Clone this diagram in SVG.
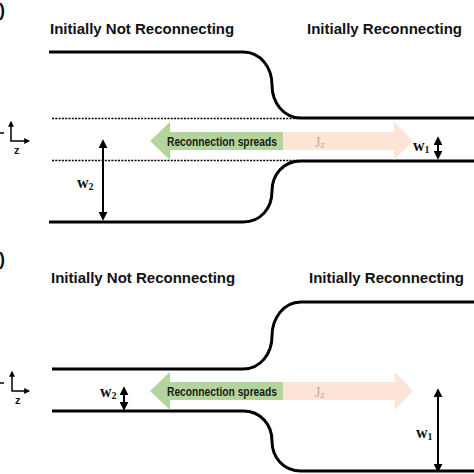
<svg xmlns="http://www.w3.org/2000/svg" width="474" height="474" viewBox="0 0 474 474">
  <defs>
    <style>
      .title { font-family: "Liberation Sans", Arial, sans-serif; font-weight: bold; font-size: 15px; fill: #111; }
      .lbl { font-family: "Liberation Sans", Arial, sans-serif; font-weight: bold; font-size: 12px; fill: #1a1a1a; }
      .w { font-family: "Liberation Serif", "DejaVu Serif", serif; font-weight: bold; font-size: 16px; fill: #111; }
      .jz { font-family: "Liberation Serif", "DejaVu Serif", serif; font-size: 14px; fill: #c9a595; }
      .wall { fill: none; stroke: #000; stroke-width: 3; }
      .dot { fill: none; stroke: #000; stroke-width: 1.6; stroke-dasharray: 2 1.3; }
      .dim { fill: none; stroke: #000; stroke-width: 2; marker-start: url(#ah); marker-end: url(#ah); }
      .ax { fill: none; stroke: #000; stroke-width: 1.5; marker-end: url(#axh); }
      .axl { font-family: "Liberation Sans", Arial, sans-serif; font-weight: bold; font-size: 11px; fill: #111; }
      .green { fill: #b3d49c; }
      .peach { fill: #fce4d6; }
    </style>
    <marker id="ah" viewBox="0 0 10 10" refX="8" refY="5" markerWidth="4.5" markerHeight="4.5" orient="auto-start-reverse" markerUnits="strokeWidth">
      <path d="M0,0 L10,5 L0,10 Z" fill="#000"/>
    </marker>
    <marker id="axh" viewBox="0 0 10 10" refX="8" refY="5" markerWidth="4" markerHeight="4" orient="auto" markerUnits="strokeWidth">
      <path d="M0,0 L10,5 L0,10 Z" fill="#000"/>
    </marker>
  </defs>
  <rect width="474" height="474" fill="#fff"/>

  <!-- Panel a -->
  <g id="panel-a">
    <text x="-1" y="16" class="title" style="font-size:18px">)</text>
    <text x="50" y="34" class="title">Initially Not Reconnecting</text>
    <text x="307" y="34" class="title">Initially Reconnecting</text>
    <g id="a-axes">
      <path d="M0,133 H4" stroke="#000" stroke-width="1.5"/>
      <path class="ax" d="M11,141 V122"/>
      <path class="ax" d="M10.3,141 H29"/>
      <text x="14" y="154" class="axl">z</text>
    </g>
    <g id="a-walls">
      <path class="wall" d="M49,52 H243 C261,52 272,68 272,85 C272,102 283,118 301,118 H474"/>
      <path class="wall" d="M474,161 H301 C283,161 272,175 272,191 C272,208 261,222 243,222 H49"/>
      <path class="dot" d="M52,118.5 H300"/>
      <path class="dot" d="M52,160.5 H300"/>
    </g>
    <g id="a-arrow">
      <polygon class="peach" points="283,132 394,132 394,122 413,141 394,160 394,150 283,150"/>
      <polygon class="green" points="150,141 170,122 170,132 283,132 283,150 170,150 170,160"/>
      <text x="167" y="145.5" class="lbl" textLength="110" lengthAdjust="spacingAndGlyphs">Reconnection spreads</text>
      <text x="315" y="147" class="jz">J<tspan font-style="italic" font-size="10" dy="1">z</tspan></text>
    </g>
    <g id="a-w1">
      <path class="dim" d="M438,138 V158"/>
      <text x="413" y="151" class="w">w<tspan font-size="10" dy="2">1</tspan></text>
    </g>
    <g id="a-w2">
      <path class="dim" d="M103,141 V219"/>
      <text x="77" y="188" class="w">w<tspan font-size="10" dy="2">2</tspan></text>
    </g>
  </g>

  <!-- Panel b -->
  <g id="panel-b">
    <text x="-1" y="265" class="title" style="font-size:18px">)</text>
    <text x="51" y="283" class="title">Initially Not Reconnecting</text>
    <text x="309" y="283" class="title">Initially Reconnecting</text>
    <g id="b-axes">
      <path d="M0,383 H4" stroke="#000" stroke-width="1.5"/>
      <path class="ax" d="M12,391 V372"/>
      <path class="ax" d="M11.3,391 H29"/>
      <text x="15" y="404" class="axl">z</text>
    </g>
    <g id="b-walls">
      <path class="wall" d="M52,369 H243 C261,369 272,353 272,336 C272,319 283,302 301,302 H474"/>
      <path class="wall" d="M52,411 H243 C261,411 272,425 272,441 C272,457 283,471 301,471 H474"/>
    </g>
    <g id="b-arrow">
      <polygon class="peach" points="283,382 395,382 395,372 413,391 395,410 395,400 283,400"/>
      <polygon class="green" points="150,391 170,372 170,382 283,382 283,400 170,400 170,410"/>
      <text x="167" y="395.5" class="lbl" textLength="110" lengthAdjust="spacingAndGlyphs">Reconnection spreads</text>
      <text x="315" y="397" class="jz">J<tspan font-style="italic" font-size="10" dy="1">z</tspan></text>
    </g>
    <g id="b-w2">
      <path class="dim" d="M124,388 V409"/>
      <text x="100" y="397" class="w">w<tspan font-size="10" dy="2">2</tspan></text>
    </g>
    <g id="b-w1">
      <path class="dim" d="M438,390 V471"/>
      <text x="416" y="438" class="w">w<tspan font-size="10" dy="2">1</tspan></text>
    </g>
  </g>
</svg>
